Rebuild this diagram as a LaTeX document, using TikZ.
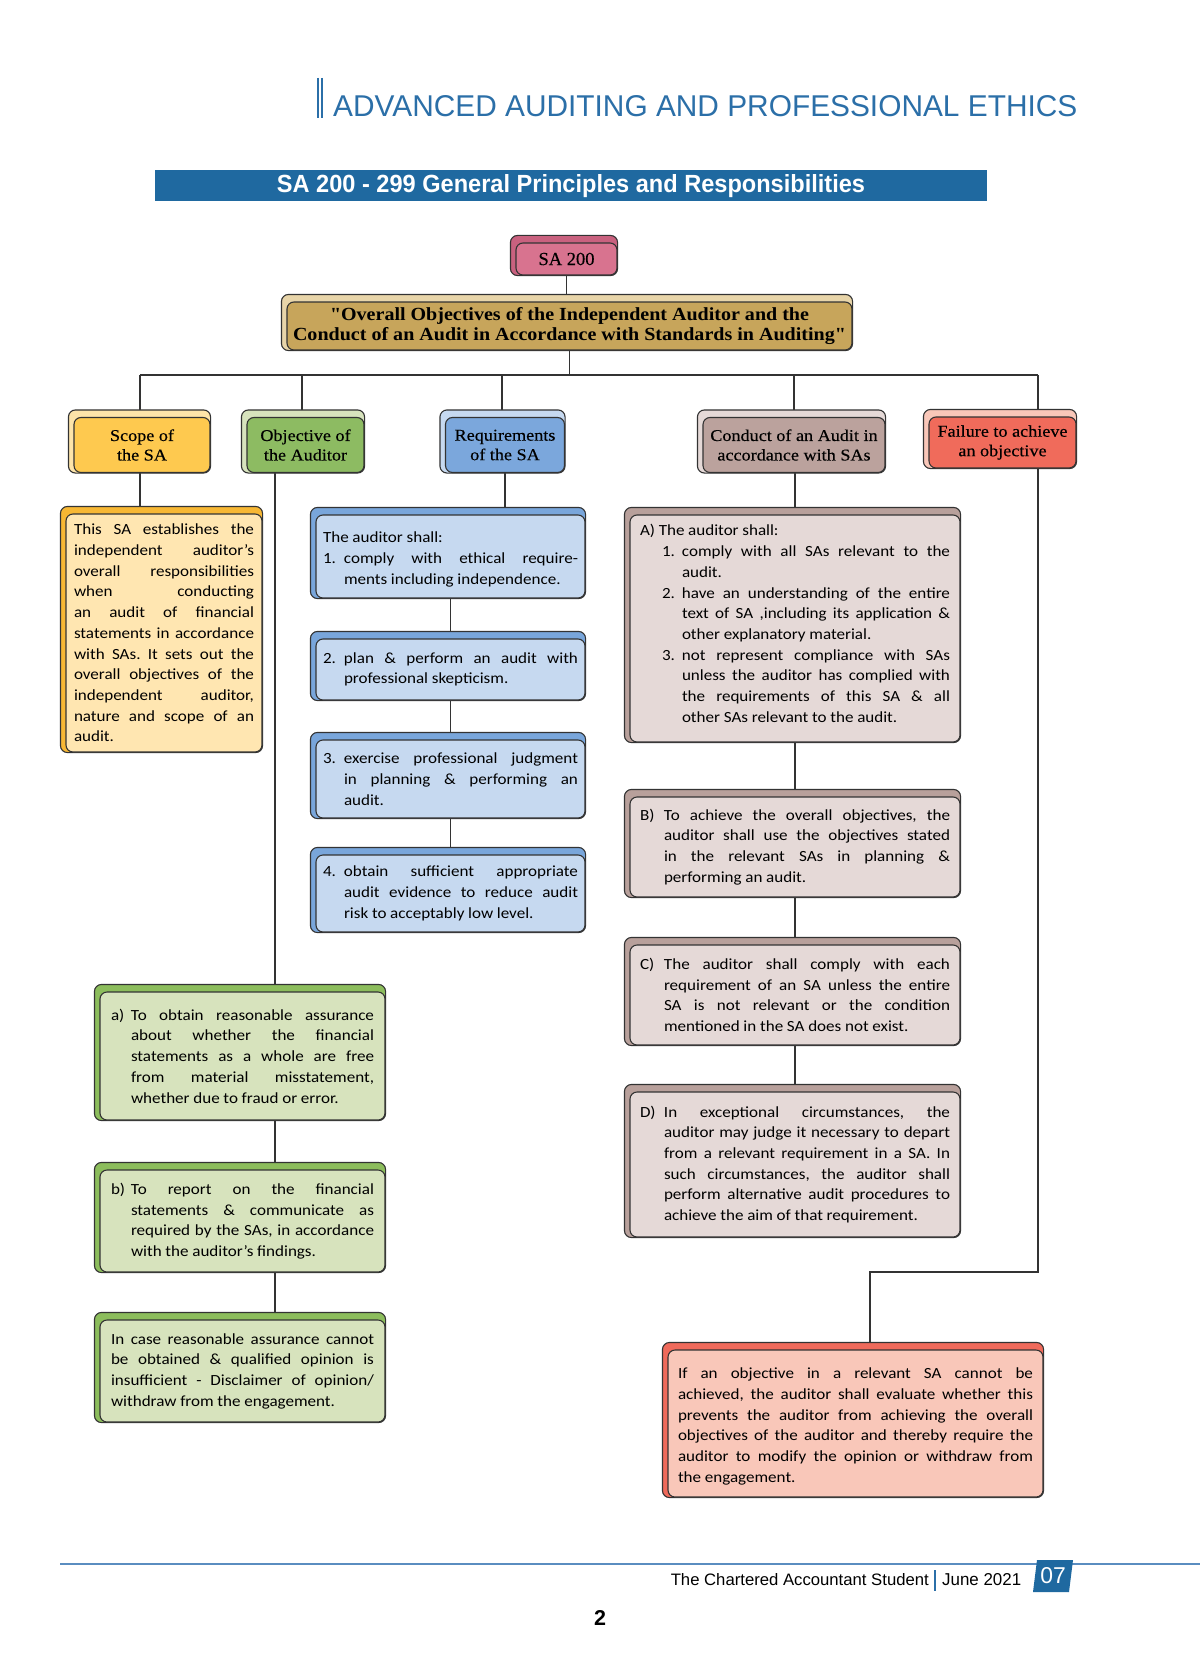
\documentclass[tikz,border=0pt]{standalone}
\usepackage{fontspec}
\usepackage{graphicx}
\usetikzlibrary{calc}
\newfontfamily\bodyf{Carlito}[FakeStretch=1.1]
\newfontfamily\labf{Liberation Serif}[FakeStretch=1.1,FakeBold=0.3]
\newfontfamily\labnf{Liberation Serif}[FakeBold=0.3]
\newfontfamily\headf{Liberation Serif}
\newfontfamily\sansf{Liberation Sans}
\definecolor{linec}{HTML}{333333}
\definecolor{yelF}{HTML}{FFE6B1}\definecolor{yelB}{HTML}{F7B733}
\definecolor{scopeF}{HTML}{FEC94F}\definecolor{scopeB}{HTML}{FDE4A9}
\definecolor{bluF}{HTML}{C6D9F0}\definecolor{bluB}{HTML}{79A6DB}
\definecolor{reqF}{HTML}{7BA7DC}\definecolor{reqB}{HTML}{C6D9F0}
\definecolor{conF}{HTML}{E5D9D7}\definecolor{conB}{HTML}{B8A09B}
\definecolor{cndF}{HTML}{BBA29D}\definecolor{cndB}{HTML}{E5D9D7}
\definecolor{grnF}{HTML}{D7E3BD}\definecolor{grnB}{HTML}{8CBD5C}
\definecolor{objF}{HTML}{8DBB62}\definecolor{objB}{HTML}{D7E3BD}
\definecolor{redF}{HTML}{F9C7B9}\definecolor{redB}{HTML}{EF6A5B}
\definecolor{failF}{HTML}{F06B5B}\definecolor{failB}{HTML}{F9C7B9}
\definecolor{saF}{HTML}{D8738F}\definecolor{saB}{HTML}{C9617F}
\definecolor{mainF}{HTML}{C7A55B}\definecolor{mainB}{HTML}{E8D5A9}
\definecolor{hblue}{HTML}{2B6FA8}\definecolor{tblue}{HTML}{1F69A0}\definecolor{fblue}{HTML}{5A8DC0}
\pgfdeclarelayer{bg}\pgfdeclarelayer{lines}\pgfdeclarelayer{backs}
\pgfsetlayers{bg,lines,backs,main}
\newlength{\cw}
\newcommand{\cboxsetup}[1]{\setlength{\cw}{#1}\frenchspacing\spaceskip=0.24em plus 1em minus 0.08em\relax}
\newcommand{\jLine}[2]{\noindent\hspace*{#1}\hbox to \dimexpr\cw-#1\relax{#2}\par}
\newcommand{\lLine}[2]{\noindent\hspace*{#1}\hbox to \dimexpr\cw-#1\relax{#2\hfil}\par}
\newcommand{\iLine}[4]{\noindent\hspace*{#1}\hbox to \dimexpr#2-#1\relax{#3\hfil}\hbox to \dimexpr\cw-#2\relax{#4}\par}
\newcommand{\backbox}[2]{\begin{pgfonlayer}{backs}\draw[bshape,fill=#2] ([shift={(-5pt,7pt)}]#1.north west) rectangle (#1.south east);\end{pgfonlayer}}
\tikzset{
 bshape/.style={draw=linec, line width=1.1pt, rounded corners=7pt},
 cbox/.style={draw=linec, line width=1.1pt, rounded corners=7pt, inner sep=0pt, text width=#1,
   font=\bodyf\fontsize{15.5}{20.7}\selectfont},
 ebox/.style={draw=linec, line width=1.1pt, rounded corners=7pt, inner sep=0pt},
 ctext/.style={inner sep=0pt, text width=#1, font=\bodyf\fontsize{15.5}{20.7}\selectfont},
 lbox/.style={draw=linec, line width=1.1pt, rounded corners=7pt, inner sep=0pt, align=center, font=\labf\fontsize{16.5}{19.5}\selectfont},
 conn/.style={draw=linec, line width=1.1pt},
}
\begin{document}
\begin{tikzpicture}[x=1pt,y=-1pt]
\begin{pgfonlayer}{bg}
\fill[white] (0,0) rectangle (1200,1680);
\end{pgfonlayer}
\useasboundingbox (0,0) rectangle (1200,1680);
% header
\draw[hblue, line width=1.3pt] (318,78) -- (318,118) (322,78) -- (322,118);
\node[anchor=base west, inner sep=0, text=hblue] (hdr) at (333,117) {\resizebox{744pt}{21pt}{\sansf ADVANCED AUDITING AND PROFESSIONAL ETHICS}};
\node[fill=tblue, minimum width=832pt, minimum height=31pt, inner sep=0, text=white] (title) at (571,186) {\resizebox{588pt}{18pt}{\sansf\bfseries SA 200 - 299 General Principles and Responsibilities}};
% top boxes
\node[lbox, fill=saF, minimum width=101pt, minimum height=32pt, font=\labnf\fontsize{18.5}{20}\selectfont] (sa) at (566.5,259) {SA 200};
\backbox{sa}{saB}
\node[lbox, fill=mainF, minimum width=565pt, minimum height=48pt, font=\headf\bfseries\fontsize{18.5}{20}\selectfont] (main) at (569.5,326) {\resizebox{479pt}{\height}{"Overall Objectives of the Independent Auditor and the}\\\resizebox{553pt}{\height}{Conduct of an Audit in Accordance with Standards in Auditing"}};
\backbox{main}{mainB}
% level 2
\node[lbox, fill=scopeF, minimum width=136pt, minimum height=55pt] (scope) at (142,445) {Scope of\\the SA};
\backbox{scope}{scopeB}
\node[lbox, fill=objF, minimum width=117pt, minimum height=55pt] (obj) at (305.5,445) {Objective of\\the Auditor};
\backbox{obj}{objB}
\node[lbox, fill=reqF, minimum width=119pt, minimum height=55pt] (req) at (505,445) {Requirements\\of the SA};
\backbox{req}{reqB}
\node[lbox, fill=cndF, minimum width=182pt, minimum height=55pt] (cond) at (794,445) {Conduct of an Audit in\\accordance with SAs};
\backbox{cond}{cndB}
\node[lbox, fill=failF, minimum width=147pt, minimum height=51pt] (fail) at (1002.5,442.5) {Failure to achieve\\an objective};
\backbox{fail}{failB}
% scope text
\node[cbox=180pt, fill=yelF, minimum width=196pt, minimum height=238pt] (yel) at (164,633) {\cboxsetup{180pt}%
\jLine{0pt}{This SA establishes the}%
\jLine{0pt}{independent auditor’s}%
\jLine{0pt}{overall responsibilities}%
\jLine{0pt}{when conducting}%
\jLine{0pt}{an audit of financial}%
\jLine{0pt}{statements in accordance}%
\jLine{0pt}{with SAs. It sets out the}%
\jLine{0pt}{overall objectives of the}%
\jLine{0pt}{independent auditor,}%
\jLine{0pt}{nature and scope of an}%
\lLine{0pt}{audit.}};
\backbox{yel}{yelB}
% requirements
\node[ebox, fill=bluF, minimum width=269pt, minimum height=83pt] (b1) at (450.5,556.5) {};
\node[ctext=255pt] (b1t) at ([yshift=-3pt]b1.center) {\cboxsetup{255pt}%
\lLine{0pt}{The auditor shall:}%
\iLine{0pt}{21pt}{1.}{comply with ethical require-}%
\lLine{21pt}{ments including independence.}};
\backbox{b1}{bluB}
\node[cbox=255pt, fill=bluF, minimum width=269pt, minimum height=61pt] (b2) at (450.5,669.5) {\cboxsetup{255pt}%
\iLine{0pt}{21pt}{2.}{plan \& perform an audit with}%
\lLine{21pt}{professional skepticism.}};
\backbox{b2}{bluB}
\node[cbox=255pt, fill=bluF, minimum width=269pt, minimum height=78pt] (b3) at (450.5,779) {\cboxsetup{255pt}%
\iLine{0pt}{21pt}{3.}{exercise professional judgment}%
\jLine{21pt}{in planning \& performing an}%
\lLine{21pt}{audit.}};
\backbox{b3}{bluB}
\node[cbox=255pt, fill=bluF, minimum width=269pt, minimum height=77pt] (b4) at (450.5,893.5) {\cboxsetup{255pt}%
\iLine{0pt}{21pt}{4.}{obtain sufficient appropriate}%
\jLine{21pt}{audit evidence to reduce audit}%
\lLine{21pt}{risk to acceptably low level.}};
\backbox{b4}{bluB}
% conduct
\node[ebox, fill=conF, minimum width=330pt, minimum height=227pt] (ca) at (795,628.5) {};
\node[ctext=310pt] (cat) at ([yshift=5pt]ca.center) {\cboxsetup{310pt}%
\lLine{0pt}{A) The auditor shall:}%
\iLine{22pt}{42pt}{1.}{comply with all SAs relevant to the}%
\lLine{42pt}{audit.}%
\iLine{22pt}{42pt}{2.}{have an understanding of the entire}%
\jLine{42pt}{text of SA ,including its application \&}%
\lLine{42pt}{other explanatory material.}%
\iLine{22pt}{42pt}{3.}{not represent compliance with SAs}%
\jLine{42pt}{unless the auditor has complied with}%
\jLine{42pt}{the requirements of this SA \& all}%
\lLine{42pt}{other SAs relevant to the audit.}};
\backbox{ca}{conB}
\node[cbox=310pt, fill=conF, minimum width=330pt, minimum height=100pt] (cb) at (795,847) {\cboxsetup{310pt}%
\iLine{0pt}{24pt}{B)}{To achieve the overall objectives, the}%
\jLine{24pt}{auditor shall use the objectives stated}%
\jLine{24pt}{in the relevant SAs in planning \&}%
\lLine{24pt}{performing an audit.}};
\backbox{cb}{conB}
\node[cbox=310pt, fill=conF, minimum width=330pt, minimum height=100pt] (cc) at (795,995) {\cboxsetup{310pt}%
\iLine{0pt}{24pt}{C)}{The auditor shall comply with each}%
\jLine{24pt}{requirement of an SA unless the entire}%
\jLine{24pt}{SA is not relevant or the condition}%
\lLine{24pt}{mentioned in the SA does not exist.}};
\backbox{cc}{conB}
\node[cbox=310pt, fill=conF, minimum width=330pt, minimum height=145pt] (cd) at (795,1164.5) {\cboxsetup{310pt}%
\iLine{0pt}{24pt}{D)}{In exceptional circumstances, the}%
\jLine{24pt}{auditor may judge it necessary to depart}%
\jLine{24pt}{from a relevant requirement in a SA. In}%
\jLine{24pt}{such circumstances, the auditor shall}%
\jLine{24pt}{perform alternative audit procedures to}%
\lLine{24pt}{achieve the aim of that requirement.}};
\backbox{cd}{conB}
% objective
\node[cbox=263pt, fill=grnF, minimum width=285pt, minimum height=128pt] (ga) at (242.5,1056) {\cboxsetup{263pt}%
\iLine{0pt}{20pt}{a)}{To obtain reasonable assurance}%
\jLine{20pt}{about whether the financial}%
\jLine{20pt}{statements as a whole are free}%
\jLine{20pt}{from material misstatement,}%
\lLine{20pt}{whether due to fraud or error.}};
\backbox{ga}{grnB}
\node[cbox=263pt, fill=grnF, minimum width=285pt, minimum height=102pt] (gb) at (242.5,1221) {\cboxsetup{263pt}%
\iLine{0pt}{20pt}{b)}{To report on the financial}%
\jLine{20pt}{statements \& communicate as}%
\jLine{20pt}{required by the SAs, in accordance}%
\lLine{20pt}{with the auditor’s findings.}};
\backbox{gb}{grnB}
\node[cbox=263pt, fill=grnF, minimum width=285pt, minimum height=102pt] (gc) at (242.5,1371) {\cboxsetup{263pt}%
\jLine{0pt}{In case reasonable assurance cannot}%
\jLine{0pt}{be obtained \& qualified opinion is}%
\jLine{0pt}{insufficient - Disclaimer of opinion/}%
\lLine{0pt}{withdraw from the engagement.}};
\backbox{gc}{grnB}
% failure
\node[ebox, fill=redF, minimum width=375pt, minimum height=147pt] (red) at (855.5,1423.5) {};
\node[ctext=355pt] (redt) at ([yshift=-3pt]red.center) {\cboxsetup{355pt}%
\jLine{0pt}{If an objective in a relevant SA cannot be}%
\jLine{0pt}{achieved, the auditor shall evaluate whether this}%
\jLine{0pt}{prevents the auditor from achieving the overall}%
\jLine{0pt}{objectives of the auditor and thereby require the}%
\jLine{0pt}{auditor to modify the opinion or withdraw from}%
\lLine{0pt}{the engagement.}};
\backbox{red}{redB}
% connectors
\coordinate (busL) at (140,375);
\coordinate (busR) at (1038,375);
\coordinate (objtop) at (302,375);
\coordinate (reqtop) at (502,375);
\coordinate (ox) at (275,375);
\coordinate (fturn) at (1038,1272);
\coordinate (fturn2) at (870,1272);
\begin{pgfonlayer}{lines}
\draw[conn] (sa.south) -- (sa.south |- main.north);
\draw[conn] (main.south) -- (main.south |- busL);
\draw[conn] (busL) -- (busR);
\draw[conn] (busL) -- (busL |- scope.north);
\draw[conn] (objtop) -- (objtop |- obj.north);
\draw[conn] (reqtop) -- (reqtop |- req.north);
\draw[conn] (cond.north |- busL) -- (cond.north);
\draw[conn] (busR) -- (busR |- fail.north);
\draw[conn] (busL |- scope.south) -- (busL |- yel.north);
\draw[conn] (req.south) -- (req.south |- b1.north);
\draw[conn] (b1.south) -- (b2.north);
\draw[conn] (b2.south) -- (b3.north);
\draw[conn] (b3.south) -- (b4.north);
\draw[conn] (ca.north |- cond.south) -- (ca.north);
\draw[conn] (ca.south) -- (cb.north);
\draw[conn] (cb.south) -- (cc.north);
\draw[conn] (cc.south) -- (cd.north);
\draw[conn] (ox |- obj.south) -- (ox |- ga.north);
\draw[conn] (ox |- ga.south) -- (ox |- gb.north);
\draw[conn] (ox |- gb.south) -- (ox |- gc.north);
\draw[conn] (busR |- fail.south) -- (fturn) -- (fturn2) -- (fturn2 |- red.north);
\end{pgfonlayer}
% footer
\draw[fblue, line width=2pt] (60,1564) -- (1200,1564);
\node[anchor=base east, inner sep=0] (ftxt) at (929,1585) {\resizebox{258pt}{12pt}{\sansf The Chartered Accountant Student}};
\fill[hblue] (933.5,1570) rectangle (936,1591);
\node[anchor=base west, inner sep=0] (fdate) at (942,1585) {\resizebox{79pt}{12pt}{\sansf June 2021}};
\fill[tblue] (1037,1560) -- (1073,1560) -- (1069,1592) -- (1033,1592) -- cycle;
\node[text=white, inner sep=0] (pg) at (1053,1576) {\resizebox{!}{16pt}{\sansf 07}};
\node[inner sep=0] (pnum) at (600,1618) {\resizebox{!}{15pt}{\sansf\bfseries 2}};
\end{tikzpicture}
\end{document}
